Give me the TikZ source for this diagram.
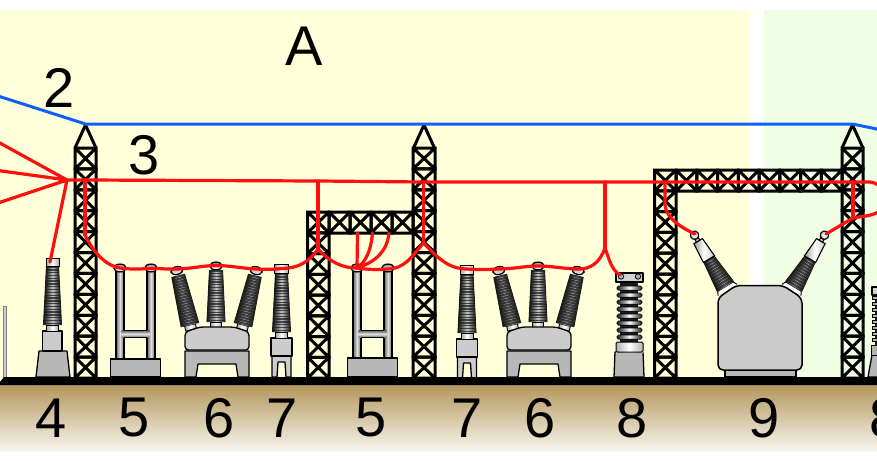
\documentclass[tikz,border=0pt]{standalone}
\usepackage{fontspec}
\setmainfont{Liberation Sans}
\definecolor{bgy}{HTML}{FFFFD9}
\definecolor{bgg}{HTML}{F0FFE4}
\definecolor{wirer}{HTML}{FF1010}
\definecolor{wireb}{HTML}{0F5FFF}
\definecolor{brown1}{HTML}{B3955A}
\definecolor{brown2}{HTML}{F7F5EE}
\definecolor{metal}{HTML}{CCCCCC}
\definecolor{metald}{HTML}{B8B8B8}
\definecolor{ribd}{HTML}{1A1A1A}
\definecolor{ribm}{HTML}{4A4A4A}
\definecolor{ribl}{HTML}{C4C4C4}
\tikzset{
 lat/.style={draw=black,line width=3pt,line join=miter},
 red wire/.style={draw=wirer,line width=3.2pt,line cap=round,line join=round},
 blue wire/.style={draw=wireb,line width=3pt,line join=round},
 part/.style={draw=black,line width=1.3pt,fill=metal,line join=round},
 partd/.style={draw=black,line width=1.3pt,fill=metald,line join=round},
 num/.style={font=\fontsize{56}{56}\selectfont,text=black,inner sep=0pt,anchor=center},
}
% vertical lattice: xl xr ytop ybot cells
\newcommand\vlat[5]{%
 \foreach \i in {1,...,#5}{%
  \pgfmathsetmacro\ya{#3+(\i-1)*(#4-#3)/#5}%
  \pgfmathsetmacro\yb{#3+\i*(#4-#3)/#5}%
  \draw[lat] (#1,\ya) rectangle (#2,\yb) (#1,\ya)--(#2,\yb) (#2,\ya)--(#1,\yb);
 }}
% horizontal lattice: xl xr ytop ybot cells
\newcommand\hlat[5]{%
 \foreach \i in {1,...,#5}{%
  \pgfmathsetmacro\xa{#1+(\i-1)*(#2-#1)/#5}%
  \pgfmathsetmacro\xb{#1+\i*(#2-#1)/#5}%
  \draw[lat] (\xa,#3) rectangle (\xb,#4) (\xa,#3)--(\xb,#4) (\xb,#3)--(\xa,#4);
 }}
\newcommand\spike[3]{\draw[lat,line join=round] (#1-10.5,#3+23) -- (#1,#3) -- (#1+10.5,#3+23);}
% ribbed insulator in local scope: length, wbot, wtop, ribs
\newcommand\ribs[4]{%
 \fill[ribd] (-#2/2,0) -- (-#3/2,-#1) -- (#3/2,-#1) -- (#2/2,0) -- cycle;
 \foreach \i in {1,...,#4}{%
  \pgfmathsetmacro\yy{-(\i-0.5)*#1/#4}%
  \pgfmathsetmacro\ww{(#2+(#3-#2)*(\i-0.5)/#4)/2}%
  \pgfmathsetmacro\hh{0.32*#1/#4}%
  \shade[left color=ribd,right color=ribd,middle color=ribm]
    (-\ww+0.4,\yy-\hh) rectangle (\ww-0.4,\yy+\hh);
  \shade[left color=ribd,right color=ribd,middle color=ribl]
    (-\ww+0.4,\yy+\hh) rectangle (\ww-0.4,\yy+\hh+0.45);
 }}
% collar: y0 y1 halfwidth
\newcommand\collar[3]{\shade[left color=gray!70,right color=gray!70,middle color=white] (-#3,#1) rectangle (#3,#2); \draw[black,line width=.9pt] (-#3,#1) rectangle (#3,#2);}
\newcommand\capoval[2]{\shade[top color=gray!80,bottom color=white] (#1,#2) ellipse (6.2 and 3.9); \draw[black,line width=1.3pt] (#1,#2) ellipse (6.2 and 3.9);}
% breaker
\newcommand\breaker[1]{%
 \begin{scope}[shift={(#1,0)}]
  \draw[partd] (-32,377) -- (-32,351) -- (32,351) -- (32,377) -- (21,377) -- (19,364) -- (-19,364) -- (-21,377) -- cycle;
  \begin{scope}[shift={(-1,322)}]\collar{0}{5}{5.5}\ribs{52}{19}{14}{19}\capoval{0}{-56}\end{scope}
  \begin{scope}[shift={(-27,325)},rotate=13.5]\collar{0}{5}{5.5}\ribs{51}{19}{14}{19}\capoval{0}{-56}\end{scope}
  \begin{scope}[shift={(26,325)},rotate=-13.5]\collar{0}{5}{5.5}\ribs{51}{19}{14}{19}\capoval{0}{-56}\end{scope}
  \draw[part,rounded corners=3.5pt] (-32,350) -- (-32,332) -- (-17,327) -- (17,327) -- (32,332) -- (32,350) -- cycle;
 \end{scope}}
% disconnector
\newcommand\discon[2]{%
 \begin{scope}[shift={(#1,0)}]
  \foreach \cx in {-15.5,15.5}{%
   \shade[left color=gray!80!black,right color=gray!80!black,middle color=gray!25] (\cx-4,270) rectangle (\cx+4,#2);
   \draw[black,line width=1.3pt] (\cx-4,270) rectangle (\cx+4,#2);
  }
  \shade[top color=gray!80!black,bottom color=gray!80!black,middle color=gray!20] (-14,330.5) rectangle (14,337.5);
  \draw[black,line width=1.3pt] (-11.5,330.5) -- (11.5,330.5) (-11.5,337.5) -- (11.5,337.5);
  \draw[black,line width=1.3pt] (-15,268.5) -- (15,268.5);
  \draw[partd] (-25,#2) rectangle (25,377);
  \capoval{-15.5}{268}\capoval{15.5}{268}
 \end{scope}}
% pole 7
\newcommand\poleseven[2]{%
 \begin{scope}[shift={(#1,#2)}]
  \draw[partd,fill=metal] (-9.5,18) -- (-9.5,39) -- (-4.5,39) -- (-3.5,24) -- (3.5,24) -- (4.5,39) -- (9.5,39) -- (9.5,18) -- cycle;
  \draw[part] (-10.5,0) rectangle (10.5,18);
  \begin{scope}[shift={(0,-6)}]\collar{0}{6}{6}\ribs{59}{19}{13}{21}\end{scope}
  \collar{-74}{-65}{6.8}
 \end{scope}}
\newcommand\bushing[3]{%
 \begin{scope}[shift={(#1,#2)},rotate=#3]
  \fill[white] (-11,0) -- (-9,-4) -- (9,-4) -- (11,0) -- cycle;
  \draw[black,line width=1pt] (-11,0) -- (-9,-4) -- (9,-4) -- (11,0);
  \begin{scope}[shift={(0,-4)}]\ribs{32}{20}{13}{11}\end{scope}
  \shade[left color=gray!75,right color=gray!45,middle color=white] (-6.5,-36) -- (-5,-57) -- (5,-57) -- (6.5,-36) -- cycle;
  \draw[black,line width=1.1pt] (-6.5,-36) -- (-5,-57) -- (5,-57) -- (6.5,-36) -- cycle;
  \draw[black,line width=1pt,fill=gray!50] (-2,-57) rectangle (2,-60);
  \shade[inner color=white,outer color=gray!50] (0,-64) circle (4.2);
  \draw[black,line width=1.1pt] (0,-64) circle (4.2);
 \end{scope}}
\begin{document}
\begin{tikzpicture}[x=1pt,y=-1pt]
\useasboundingbox (0,0) rectangle (877,460);
% backgrounds
\fill[bgy] (0,10) rectangle (749,381);
\fill[bgg] (764,10) rectangle (877,381);
\shade[top color=brown1,bottom color=brown2] (0,384) rectangle (877,451);
% far-left stub
\draw[line width=.8pt,draw=gray,fill=gray!40] (3.5,306) rectangle (6.5,378);
% lattice towers
\vlat{75}{96}{148}{378}{11}\spike{85.5}{0}{125}
\vlat{413}{435}{148}{378}{11}\spike{424}{0}{125}
\vlat{307.5}{329}{212}{378}{8}
\hlat{329}{413}{212}{233}{4}
\vlat{654.5}{676}{170}{378}{10}
\hlat{676}{842}{170}{191}{8}
\vlat{842}{863}{148}{378}{11}\spike{852.5}{0}{125}
% item 4
\draw[partd] (36,377) -- (39,351) -- (67,351) -- (70,377) -- cycle;
\draw[part] (42.5,331) rectangle (62,351);
\begin{scope}[shift={(52.5,325)}]\collar{0}{6}{6}\ribs{59}{19}{13}{21}\collar{-67}{-59}{6.5}\end{scope}
% item 5
\discon{135.5}{359}
\discon{372.5}{358}
% item 6
\breaker{217}
\breaker{539}
% item 7
\poleseven{281.5}{338}
\poleseven{467}{339}
% item 8
\draw[partd] (614,377) -- (615,352) -- (643,352) -- (644,377) -- cycle;
\fill[ribd] (620,282) rectangle (638,343);
\foreach \yy in {286,293,300,307,314,321,328,335}{
 \shade[left color=ribd,right color=ribd,middle color=white,rounded corners=1.5pt] (617,\yy) rectangle (642,\yy+4.2);
 \draw[black,line width=.6pt,rounded corners=1.5pt] (617,\yy) rectangle (642,\yy+4.2);
}
\shade[left color=gray!60,right color=gray!60,middle color=white] (616,342) rectangle (643,352);
\draw[black,line width=1pt,rounded corners=1.5pt] (616,342) rectangle (643,352);
\draw[part,fill=gray!35] (616,273) rectangle (643,282);
\draw[black,line width=.8pt,fill=gray!60] (621,276.5) circle (2.7) (638,276.5) circle (2.7);
% item 8, second, cut by the edge
\draw[partd] (868,377) -- (872,355) -- (885,355) -- (885,377) -- cycle;
\fill[ribd] (875,295) rectangle (885,346);
\foreach \yy in {296,302,308,314,320,326,332,338}{
 \draw[black,line width=.6pt,fill=gray!60] (872.5,\yy) rectangle (885,\yy+3.5);
}
\draw[black,line width=1pt,fill=gray!60] (871,345) rectangle (885,355);
\draw[part,fill=gray!35] (872,287) rectangle (885,295);
% item 9
\draw[partd] (725,368) rectangle (796,377);
\bushing{727.5}{290}{31}
\bushing{791.5}{290}{-31}
\draw[part,rounded corners=5pt,line width=1.5pt] (718,370) -- (718,298) -- (736,285.5) -- (783,285.5) -- (802,298) -- (802,370) -- cycle;
% ground bar
\fill[black] (0,382) -- (4,377) -- (877,377) -- (877,385) -- (0,385) -- cycle;
% wire junctions
\coordinate (fan) at (67,180);
\coordinate (m0) at (85,180);
\coordinate (m1) at (318,181);
\coordinate (m2) at (423.5,182);
\coordinate (m3) at (605,182);
\coordinate (m4) at (665,182);
\coordinate (m5) at (853,182);
\coordinate (p0) at (85,235);
\coordinate (p1) at (318,249);
\coordinate (p2) at (423.5,243);
\coordinate (p3) at (605,248);
\coordinate (c4) at (50,262);
\coordinate (a0) at (120,268);
\coordinate (a1) at (150,268.5);
\coordinate (a2) at (175,269);
\coordinate (a3) at (216,265.5);
\coordinate (a4) at (256,269);
\coordinate (a5) at (282,268.5);
\coordinate (b0) at (357,268);
\coordinate (b1) at (387,269);
\coordinate (d0) at (467,269);
\coordinate (d1) at (498,269);
\coordinate (d2) at (538,266);
\coordinate (d3) at (578,269);
\coordinate (e0) at (620,275);
\coordinate (t1) at (695,234);
\coordinate (t2) at (826,234);
\coordinate (s1) at (853,218);
% blue wire
\draw[blue wire] (-2,96) -- (85.5,124) -- (852.5,124) -- (879,129.5);
% red wires
\draw[red wire] (-2,142) -- (fan) (-2,170.5) -- (fan) (-2,203) -- (fan) (fan) -- (c4);
\draw[red wire] (fan) -- (m0) -- (m1) -- (m2) -- (m3) -- (m4) -- (m5) -- (870,182) .. controls (873,182) and (876,183.5) .. (880,186);
\draw[red wire] (m0) -- (p0);
\draw[red wire] (m1) -- (p1);
\draw[red wire] (m2) -- (p2);
\draw[red wire] (m3) -- (p3);
\draw[red wire] (p0) .. controls (92,249) and (103,265) .. (a0) .. controls (130,269.5) and (140,269) .. (a1) .. controls (158,268) and (166,269.5) .. (a2) .. controls (190,269) and (203,265.5) .. (a3) .. controls (230,265.5) and (243,268.5) .. (a4) .. controls (265,269.5) and (273,269.5) .. (a5) .. controls (298,268) and (308,263) .. (p1);
\draw[red wire] (p1) .. controls (330,262) and (342,268) .. (b0) .. controls (368,269.5) and (378,270) .. (b1) .. controls (405,269) and (412,256) .. (p2);
\draw[red wire] (p2) .. controls (437,257) and (448,269) .. (d0) .. controls (478,270) and (488,269.5) .. (d1) .. controls (513,269) and (525,266) .. (d2) .. controls (553,266) and (565,269) .. (d3) .. controls (591,269.5) and (600,262) .. (p3);
\draw[red wire] (p3) .. controls (610,262) and (612,270) .. (e0);
\coordinate (r1) at (357.5,233);
\coordinate (r2) at (372.5,233);
\coordinate (r3) at (389,233);
\draw[red wire] (b0) -- (r1);
\draw[red wire] (b0) .. controls (366,262) and (371,250) .. (r2);
\draw[red wire] (b0) .. controls (375,262) and (387,252) .. (r3);
\draw[red wire] (m4) -- (665,205) .. controls (666,219) and (684,229) .. (t1);
\draw[red wire] (m5) -- (s1);
\draw[red wire] (t2) -- (s1) .. controls (862,216) and (870,217) .. (880,211);
% labels
\node[num] (lA) at (304,46) {A};
\node[num] (l2) at (59,88) {2};
\node[num] (l3) at (144,155) {3};
\node[num] (n1) at (51,418) {4};
\node[num] (n2) at (134,418) {5};
\node[num] (n3) at (219,418) {6};
\node[num] (n4) at (282,418) {7};
\node[num] (n5) at (371,418) {5};
\node[num] (n6) at (467,418) {7};
\node[num] (n7) at (540,418) {6};
\node[num] (n8) at (632,418) {8};
\node[num] (n9) at (764,418) {9};
\node[num] (n10) at (885,418) {8};
\end{tikzpicture}
\end{document}
